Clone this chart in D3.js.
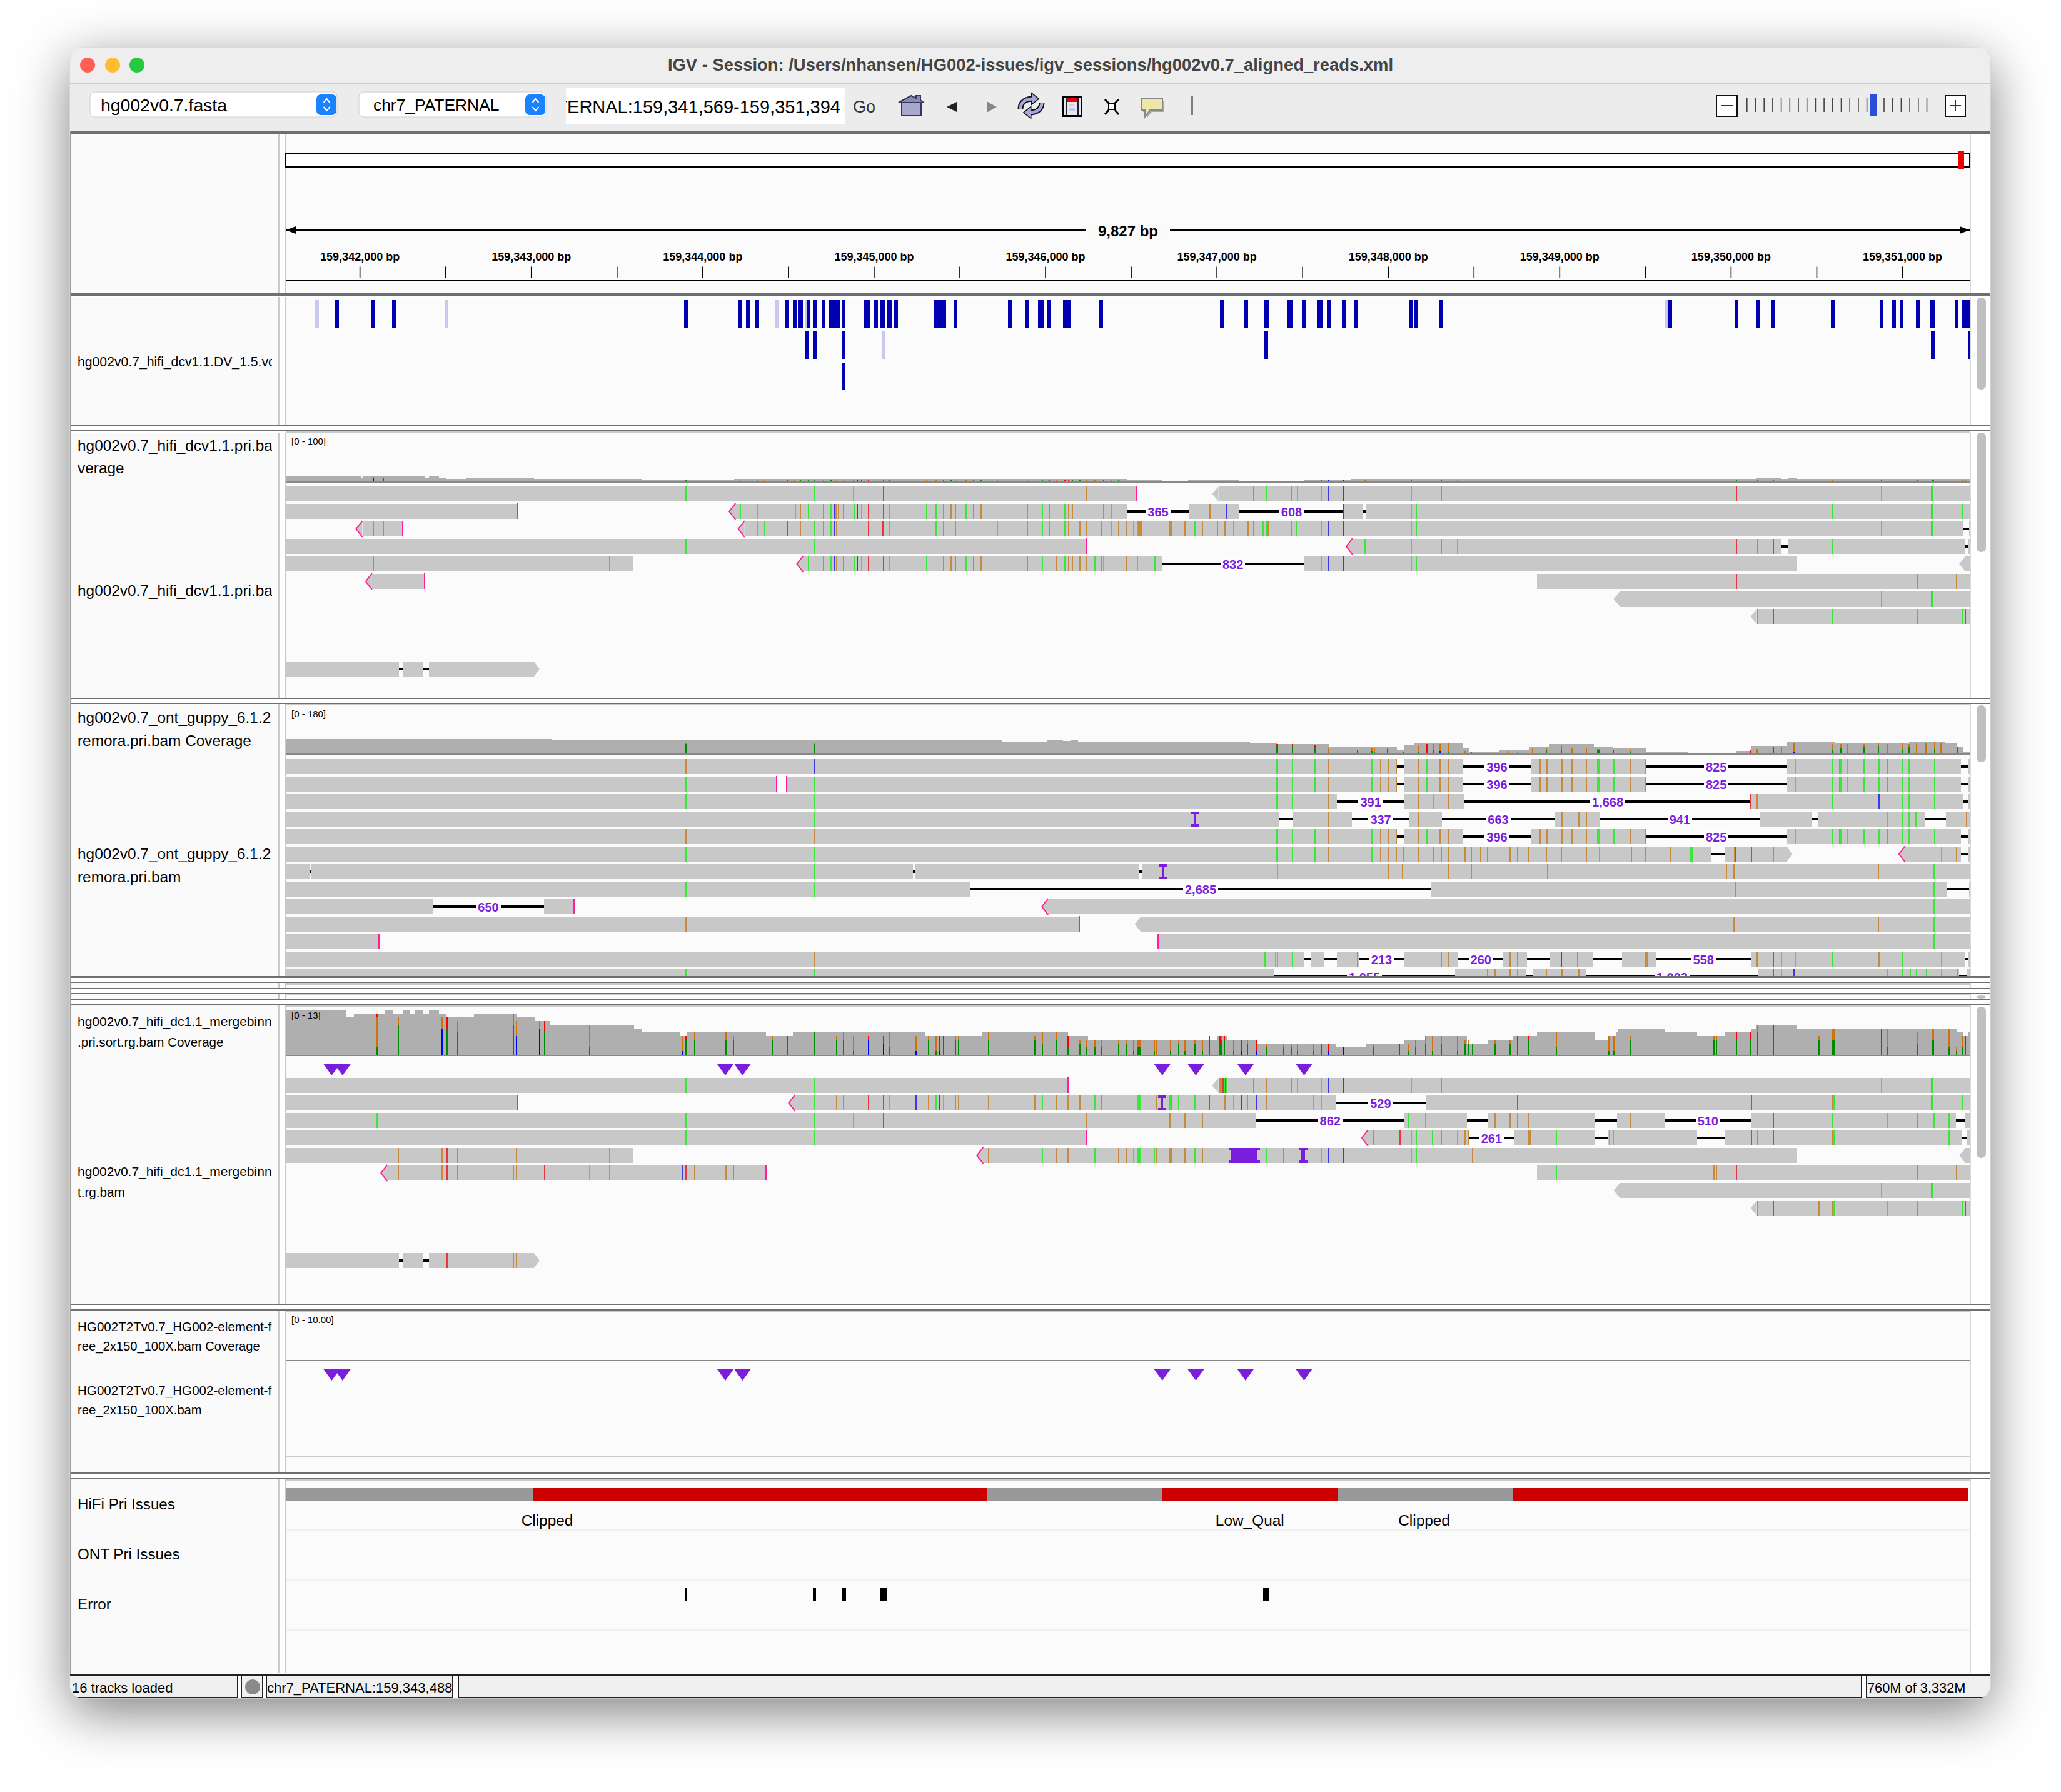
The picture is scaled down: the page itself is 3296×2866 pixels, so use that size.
<!doctype html>
<html lang="en">
<head>
<meta charset="UTF-8">
<title>IGV session</title>
<script src="https://d3js.org/d3.v7.min.js"></script>
<style>
  html, body { margin: 0; padding: 0; background: #fff; }
  text { font-family: "Liberation Sans", Arial, sans-serif; }
</style>
</head>
<body>
<div id="chart"></div>
<script>
// locus shown in the window, every position below is an offset from windowStart
const windowStart = 159341569;
const windowEnd = 159351394;
const windowLen = 9825;

const majorTicks = [159342000,159343000,159344000,159345000,159346000,159347000,159348000,159349000,159350000,159351000];
const minorTicks = [159342000,159342500,159343000,159343500,159344000,159344500,159345000,159345500,159346000,159346500,159347000,159347500,159348000,159348500,159349000,159349500,159350000,159350500,159351000];

// variant track, [start, end, light?]
const variantRow0 = [[170,194,1],[285,311],[498,522],[622,644],[930,948,1],[2323,2345],[2643,2665],[2684,2706],[2740,2762],[2857,2878,1],[2915,2937],[2959,2981],[2988,3017],[3032,3039,1],[3039,3061],[3075,3097],[3127,3148],[3170,3236],[3243,3265],[3375,3411],[3433,3455],[3470,3499],[3506,3535],[3550,3572],[3782,3815],[3818,3852],[3898,3920],[4214,4236],[4315,4337],[4388,4426],[4445,4467],[4535,4580],[4747,4769],[5452,5474],[5592,5614],[5711,5739],[5840,5878],[5927,5949],[6015,6053],[6074,6096],[6161,6183],[6234,6256],[6555,6577],[6584,6606],[6730,6752],[8050,8066,1],[8066,8088],[8454,8476],[8576,8598],[8670,8692],[9016,9038],[9298,9320],[9372,9394],[9417,9439],[9511,9533],[9592,9626],[9738,9760],[9778,9825]];
const variantRow1 = [[3032,3054],[3075,3097],[3243,3265],[3477,3499,1],[5711,5733],[9598,9620],[9816,9825]];
const variantRow2 = [[3243,3265]];

// HiFi dcv1.1 coverage steps
const hifiCovStart = [0,436,447,815,834,893,938,1053,1448,2081,2617,4908,5111,5264,5565,5941,6214,8576,8723,8768,8817];
const hifiCovDepth = [10.2,7.7,10.2,7.7,10.2,7.7,5,7.7,5,2.6,5,2.6,0,2.6,0,2.6,5,7.7,5,7.7,5];
// [position, a, c, g, t] stacked from the baseline
const hifiCovMarks = [[510,0,6.4,2.6,0],[570,6,0,0,0],[1891,0,0,0,0],[2334,2,0,0,0],[2650,0,0,2,0],[2751,0,0,4,0],[2796,0,0,2,0],[2926,2,0,0,0],[2971,0,0,2,0],[3004,2,0,0,0],[3049,2,0,0,0],[3086,2,0,0,0],[3138,0,0,4,0],[3183,2,0,0,0],[3213,0,0,2,0],[3253,0,0,2,0],[3313,0,0,2,0],[3335,0,2,0,0],[3361,0,0,0,2],[3399,0,0,0,2],[3488,0,0,0,2],[3525,2,0,0,0],[3741,0,0,2,0],[3793,0,0,2,0],[3838,2,0,0,0],[3883,2,0,0,0],[3909,0,0,4,0],[3968,0,0,2,0],[4013,2,0,0,0],[4058,2,0,0,0],[4151,0,0,2,0],[4326,0,0,4,0],[4415,2,0,0,0],[4456,2,0,0,0],[4500,0,0,2,0],[4545,0,0,0,2],[4566,0,0,0,2],[4591,2,0,0,0],[4633,2,0,0,0],[4675,0,0,2,0],[4720,0,0,2,0],[4772,0,0,0,2],[4814,0,0,2,0],[4860,2,0,0,0],[6043,2,0,0,0],[6085,0,2,0,0],[6172,0,2,0,0],[6297,0,0,2,0],[6566,4,0,0,0],[6741,2,0,0,0],[6838,0,0,2,0],[8465,2,0,0,0],[8587,4,0,0,0],[8681,4,0,0,0],[9027,0,0,2,0],[9309,0,0,0,2],[9522,2,0,0,0],[9605,4,0,0,0],[9613,4,0,0,0],[9784,0,0,2,0],[9798,0,0,2,0]];

const hifiReads = [
  {row:0, blocks:[[0,4964]], clip:"R", a:[2334,3086,3313], t:[3488], g:[4671]},
  {row:0, blocks:[[5442,9825]], strand:-1, g:[5648,5868,6741,9604], a:[5722,5903,6043,6566,9309,9609], c:[6085,6172], t:[8465]},
  {row:1, blocks:[[0,1351]], clip:"R"},
  {row:1, blocks:[[2624,4908],[5271,5565],[6172,6287],[6301,9825]], gaps:[365,608,null], strand:-1, clip:"L",
    a:[2654,2751,2974,3049,3183,3317,3361,3525,3741,3793,3968,4415,4545,4814,6566,6598,9027,9609,9784],
    c:[3198,3335,5488,6172], g:[3004,3138,3209,3224,3253,3838,3883,3909,4013,4058,4326,4456,4566,4591,4772,5394,9604], t:[3399,3488]},
  {row:2, blocks:[[447,681]], strand:-1, clip:"LR", g:[510,570]},
  {row:2, blocks:[[2677,9787],[9820,9825]], gaps:[null], strand:-1, clip:"L",
    a:[2751,2796,3086,3183,3525,3793,4151,4415,4545,4814,4947,4968,5306,5530,5701,5725,5896,6043,6566,6598,9309,9609],
    c:[3198,6085,6172], g:[3004,3138,3213,3488,3838,3909,4326,4456,4566,4633,4675,4758,4860,4905,4975,4982,4990,5158,5166,5247,5348,5435,5481,5613,5648,5730,5868,9604],
    t:[2926,3399,3484]},
  {row:3, blocks:[[0,4675]], clip:"R", a:[2334,3086]},
  {row:3, blocks:[[6224,8723],[8768,9794],[9815,9825]], gaps:[null,null], strand:-1, clip:"L", a:[6297,6566,6838,9027], g:[6741,8587], t:[8465,8681]},
  {row:4, blocks:[[0,2025]], g:[510], n:[1891]},
  {row:4, blocks:[[3019,5111],[5941,8817]], gaps:[832], strand:-1, clip:"L",
    a:[3049,3183,3317,3361,3525,3741,3968,4415,4545,4720,4772,4968,5072,6043,6566,6598],
    c:[3198,3335,6085,6172], g:[3138,3213,3253,3838,3883,3909,4013,4058,4326,4500,4566,4591,4633,4675,4758,4905], t:[3399,3488]},
  {row:4, blocks:[[9800,9825]], strand:-1},
  {row:5, blocks:[[503,811]], strand:-1, clip:"LR"},
  {row:5, blocks:[[7299,9825]], t:[8465], g:[9522,9749]},
  {row:6, blocks:[[7784,9825]], strand:-1, a:[9309,9609], g:[9604]},
  {row:7, blocks:[[8583,9825]], strand:-1, g:[8587,9522], t:[8681,9798], a:[9027,9784]},
  {row:10, blocks:[[0,659],[681,804],[834,1448]], gaps:[null,null], strand:1}
];

// ONT guppy coverage steps
const ontCovStart = [0,1500,1549,4180,4441,4535,4584,4622,5624,5784,6085,6175,6245,6482,6524,6587,6866,6908,7083,7257,7369,7634,7746,7938,8182,8461,8549,8758,9037,9470,9683,9753,9787];
const ontCovDepth = [51,52,47,43,47,44,47,43,38,34,25,22,25,11,31,37,19,6,11,22,34,25,20,7,2,9,28,43,37,43,37,22,5];
const ontCovMarks = [[2334,34,0,4,0],[3086,34,0,4,0],[5780,31,0,0,3],[5788,31,0,0,3],[5875,28,0,0,6],[6004,22,0,0,7],[6085,0,0,20,0],[6252,11,0,0,0],[6336,8,0,13,0],[6350,6,0,15,0],[6430,15,0,5,0],[6524,7,0,0,0],[6612,5,0,25,0],[6660,0,0,0,33],[6699,11,0,22,0],[6734,0,8,26,0],[6786,7,0,28,0],[6880,0,0,10,0],[6919,4,0,0,0],[6971,3,0,0,0],[7013,3,0,0,0],[7135,0,0,8,0],[7187,0,0,5,0],[7275,0,0,19,0],[7355,11,0,8,0],[7442,11,0,18,0],[7505,0,0,19,0],[7589,0,0,20,0],[7655,11,0,4,0],[7663,11,0,4,0],[7746,11,0,0,0],[7844,7,0,5,0],[8031,2,0,0,0],[8077,2,0,0,0],[8549,0,0,0,11],[8583,0,0,15,0],[8681,0,0,0,25],[8727,0,0,25,0],[8799,0,7,30,0],[9027,11,0,22,0],[9072,20,0,14,0],[9114,0,0,34,0],[9208,25,0,9,0],[9292,28,0,7,0],[9344,0,0,34,0],[9435,11,0,24,0],[9470,22,0,11,0],[9515,0,0,37,0],[9571,0,0,37,0],[9620,15,0,25,0],[9658,0,0,37,0],[9753,22,0,0,0],[9791,0,0,2,0]];

// sites that the three phased ONT reads share
const ontSharedA = [5780,5788,5875,6004,6336,6660,7655,7663,7749,8807,9027,9072,9114,9208,9295,9435,9466,9474,9620];
const ontSharedG = [6085,6388,6434,6479,6612,6734,6786,7317,7358,7442,7450,7505,7589,7844,7931,9067,9348];
const ontTail = [[6528,6870],[7264,7934],[8758,9774],[9815,9825]];
const ontTailGaps = [null,396,825,null];

const ontReads = [
  {row:0, blocks:[[0,6482],...ontTail], gaps:ontTailGaps, a:ontSharedA, g:[2334,...ontSharedG], c:[3086,6738]},
  {row:1, blocks:[[0,2863]], clip:"R", a:[2334]},
  {row:1, blocks:[[2922,6482],...ontTail], gaps:ontTailGaps, clip:"L", a:[3086,...ontSharedA], g:ontSharedG, c:[6738]},
  {row:2, blocks:[[0,6133],[6528,6877],[8549,9787],[9815,9825]], gaps:[391,1668,null],
    a:[2334,3086,5780,5788,5875,6699,9027,9435,9466,9474,9620], g:[6085,6612,6786,8583], t:[8549], c:[9295]},
  {row:3, blocks:[[0,5798],[5879,6221],[6556,6744],[7404,7666],[8601,8905],[8943,9561],[9686,9825]], gaps:[null,337,663,941,null,null],
    a:[3086,9348,9435,9466,9474,9512], g:[6085,6612,7446,7543,7589,9805], ins:[[5299,5299]]},
  {row:4, blocks:[[0,6482],...ontTail], gaps:ontTailGaps, a:ontSharedA, g:[2334,3086,...ontSharedG], c:[6738]},
  {row:5, blocks:[[0,8315],[8395,8758]], gaps:[null], strand:1,
    a:[2334,3086,5780,5788,5875,6004,6336,7666,8196,8206], g:[6085,6388,6434,6479,6524,6612,6699,6741,6786,6880,6919,6971,7013,7142,7187,7254,7355,7442,7589,7850,7931,8077,8454,8681], t:[8458,8552]},
  {row:5, blocks:[[9449,9774],[9815,9825]], gaps:[null], strand:-1, clip:"L", a:[9662], g:[9749]},
  {row:6, blocks:[[0,141],[149,3659],[3674,4978],[4996,9825]], gaps:[null,null,null], a:[3086,5788,9617], g:[6437,6517,6786,6919,7362,8405,8451,9292], ins:[[5111,5111]]},
  {row:7, blocks:[[0,3994],[6681,9693],[9822,9825]], gaps:[2685,null], a:[2334,3086,9617], g:[8458]},
  {row:8, blocks:[[0,856],[1508,1683]], gaps:[650], clip:"R"},
  {row:8, blocks:[[4448,9825]], strand:-1, clip:"L", a:[9617]},
  {row:9, blocks:[[0,4629]], clip:"R", g:[2334]},
  {row:9, blocks:[[4989,9825]], strand:-1, g:[8451,9292], a:[9617]},
  {row:10, blocks:[[0,543]], clip:"R"},
  {row:10, blocks:[[5090,9825]], clip:"L", a:[9617]},
  {row:11, blocks:[[0,5941],[5980,6060],[6133,6259],[6528,6842],[7104,7243],[7372,7627],[7798,7994],[8549,9794],[9815,9825]], gaps:[null,null,213,260,null,null,558,null],
    a:[5715,5777,5785,5875,8727,8807,9027,9435,9662], g:[3086,6252,6741,6786,7142,7187,7537,7931,7941,8583,9295], c:[7442], t:[8681]},
  {row:12, blocks:[[0,5763],[6824,7236],[7278,7586],[8590,9763],[9810,9825]], gaps:[1055,null,1002,null],
    a:[2334,3086,8727,9348,9435,9477,9515,9575,9662], g:[7013,7055,7142,7187,7355,7446,7543,9753], c:[8799], t:[8681]}
];

// merged HiFi coverage steps, integer depth on the 0-13 scale
const mergeCovStart = [0,354,398,581,625,681,726,756,804,834,893,938,1098,1348,1452,1541,2033,2081,2301,2338,2803,2959,3730,4061,4563,4682,5432,5495,5662,6126,6301,6524,6650,6891,7016,7163,7299,7638,7718,7760,7774,8046,8235,8395,8549,8576,8817,9753,9787,9819];
const mergeCovDepth = [12,10,11,12,11,12,11,12,11,12,11,10,11,10,9,8,7,6,5,6,5,6,5,6,5,4,5,4,3,2,3,4,5,3,4,5,6,4,5,6,7,6,5,6,7,8,7,6,5,6];
const mergeCovMarks = [[532,2,0,8,1],[655,8,0,2,0],[912,0,7,3,0],[942,7,0,0,3],[1005,6,0,3,0],[1329,8,0,3,0],[1348,0,5,4,0],[1482,0,7,2,0],[1511,6,0,0,3],[1772,2,0,6,0],[2315,0,1,4,0],[2334,4,0,0,1],[2386,4,0,2,0],[2569,4,0,2,0],[2613,4,0,1,0],[2837,4,0,1,0],[2926,4,0,0,1],[3086,6,0,0,0],[3216,4,0,1,0],[3253,4,0,2,0],[3313,1,0,4,0],[3399,0,4,0,1],[3488,0,3,0,2],[3525,2,0,4,0],[3678,0,1,4,0],[3749,4,0,1,0],[3793,1,0,4,0],[3816,0,1,0,4],[3838,4,0,0,1],[3909,4,0,1,0],[3924,4,0,1,0],[4099,4,0,2,0],[4370,4,0,1,0],[4415,3,0,3,0],[4500,4,0,2,0],[4563,2,0,0,3],[4633,3,0,1,0],[4675,2,0,2,0],[4720,2,0,2,0],[4758,2,0,2,0],[4860,3,0,1,0],[4905,3,0,1,0],[4947,1,0,3,0],[4971,2,0,2,0],[4982,2,0,2,0],[5069,1,0,3,0],[5083,0,0,4,0],[5163,1,0,3,0],[5209,3,0,1,0],[5247,1,0,3,0],[5306,3,0,1,0],[5348,1,0,3,0],[5390,3,0,0,2],[5449,3,0,0,2],[5462,4,0,1,0],[5475,4,0,0,1],[5530,1,0,3,0],[5575,0,1,0,3],[5610,3,0,1,0],[5662,0,1,0,3],[5725,2,0,1,0],[5823,2,0,1,0],[5868,2,0,1,0],[5903,1,0,2,0],[5997,1,0,2,0],[6043,3,0,0,0],[6085,0,1,0,2],[6172,0,2,0,0],[6346,2,0,1,0],[6496,1,0,0,2],[6552,1,0,2,0],[6594,2,0,2,0],[6650,3,0,2,0],[6692,1,0,4,0],[6741,3,0,2,0],[6838,1,0,4,0],[6880,3,0,1,0],[6898,3,0,1,0],[6926,3,0,0,0],[7055,3,0,1,0],[7142,3,0,1,0],[7187,3,0,0,2],[7254,4,0,0,1],[7414,2,0,4,0],[7721,1,0,4,0],[7749,1,0,4,0],[7844,4,0,1,0],[8332,4,0,1,0],[8346,4,0,1,0],[8465,4,0,0,2],[8549,4,0,0,2],[8587,6,0,2,0],[8681,5,0,0,3],[8946,4,0,1,0],[9026,4,0,3,0],[9034,4,0,3,0],[9309,2,0,0,5],[9348,2,0,5,0],[9522,3,0,3,0],[9605,4,0,3,0],[9613,4,0,3,0],[9704,2,0,5,0],[9749,1,0,1,0],[9784,2,0,3,0],[9798,2,0,0,3]];

const mergeReads = [
  {row:0, blocks:[[0,4563]], clip:"R", a:[2334,3086]},
  {row:0, blocks:[[5442,9825]], strand:-1, g:[5449,5456,5463,5648,5720,5868,6741,9604], t:[5470,5484], a:[5477,5491,5725,5903,6043,6566,9309,9609], c:[6085,6172]},
  {row:1, blocks:[[0,1351]], clip:"R"},
  {row:1, blocks:[[2971,6126],[6650,9825]], gaps:[529], strand:-1, clip:"L",
    a:[3086,3525,3793,3838,4415,4720,4971,4978,4985,5160,5209,5306,5530,5725,5997,6043,9034,9609,9784],
    c:[3678,3816,5575,5662], g:[3216,3253,3749,3909,3924,4099,4370,4500,4563,4633,4758,5083,5166,5481,5610,5720,9027,9604],
    t:[3399,3488,5390,7187,8552], ins:[[5104,5104]]},
  {row:2, blocks:[[0,5659],[6528,6891],[7016,7638],[7767,8046],[8549,9746],[9800,9825]], gaps:[862,null,null,510,null],
    a:[532,2334,3086,3313,6552,6650,9027,9348,9617,9704], g:[4671,5160,5247,5348,7055,7142,7187,7254,7844,9522], t:[3488,8681]},
  {row:3, blocks:[[0,4675]], clip:"R", a:[2334,3086]},
  {row:3, blocks:[[6315,6901],[7170,7638],[7718,8235],[8395,9780],[9810,9825]], gaps:[261,null,null,null], strand:-1, clip:"L",
    a:[6566,6598,6692,6838,7414,7725,7746,9034,9704], g:[6346,6741,6880,6898,7252,7259,8587,9027], t:[6500,8552,8681]},
  {row:4, blocks:[[0,2025]], g:[655,912,1005,1348], t:[942], n:[1891]},
  {row:4, blocks:[[4069,8817]], strand:-1, clip:"L",
    a:[4415,4720,4947,4971,4982,5069,5306,5725,6043,6566,6598], c:[6085,6172],
    g:[4099,4500,4563,4860,4905,5083,5158,5166,5247,5348,5823,6926], ins:[[5516,5669],[5925,5948]]},
  {row:4, blocks:[[9800,9825]], strand:-1},
  {row:5, blocks:[[592,2803]], strand:-1, clip:"LR", g:[655,912,1005,1329,1348,2386,2569,2613], t:[942,1511,2334], a:[1772], c:[2315], n:[1891]},
  {row:5, blocks:[[7299,9825]], a:[7414], g:[8332,8346,9522,9749], t:[8465]},
  {row:6, blocks:[[7784,9825]], strand:-1, a:[9309,9609], g:[9604]},
  {row:7, blocks:[[8583,9825]], strand:-1, g:[8587,8946,9027,9522], t:[8681,9798], a:[9034,9348,9784]},
  {row:10, blocks:[[0,659],[681,804],[834,1448]], gaps:[null,null], strand:1, t:[942], g:[1329,1348]}
];

// purple triangles over merged HiFi and element tracks
const softClipSites = [268,331,2565,2665,5114,5310,5600,5941];

// annotation tracks
const issueStart = [0,1441,4090,5111,6140,7162];
const issueEnd = [1441,4090,5111,6140,7162,9817];
const issueKind = ["other","flag","other","flag","other","flag"];
const issueLabelPos = [1525,5625,6642];
const issueLabelText = ["Clipped","Low_Qual","Clipped"];
const errorStart = [2326,3077,3247,3470,5703];
const errorEnd = [2344,3095,3269,3506,5739];

const W = 3296, H = 2866;
const dataLeft = 457, dataRight = 3150, rowStep = 28, readH = 24;
const baseColor = {a:"#3be63b", c:"#3a3ae6", g:"#c98a3e", t:"#e6353c", n:"#9a9a9a"};
const covColor = {a:"#008a00", c:"#0000ff", g:"#d1710a", t:"#ff0000"};
const purple = "#7a1ddd", pink = "#ff1e96", readGray = "#c8c8c8", covGray = "#afafaf";

const xScale = d3.scaleLinear().domain([windowStart, windowEnd]).range([dataLeft, dataRight]);
const x = o => xScale(windowStart + o);

const svg = d3.select("#chart").append("svg").attr("width", W).attr("height", H).style("display", "block");
const defs = svg.append("defs");

function addClip(id, x0, y0, w, h) {
  defs.append("clipPath").attr("id", id).append("rect").attr("x", x0).attr("y", y0).attr("width", w).attr("height", h);
}
function box(parent, x0, y0, w, h, fill) {
  return parent.append("rect").attr("x", x0).attr("y", y0).attr("width", w).attr("height", h).attr("fill", fill).attr("shape-rendering", "crispEdges");
}
function label(parent, txt, x0, y0, size, opts) {
  opts = opts || {};
  return parent.append("text").attr("x", x0).attr("y", y0).attr("font-size", size)
    .attr("dominant-baseline", "central").attr("text-anchor", opts.anchor || "start")
    .attr("font-weight", opts.bold ? "bold" : "normal").attr("fill", opts.fill || "#000").text(txt);
}

// window
defs.append("filter").attr("id", "shadow").attr("x", "-10%").attr("y", "-10%").attr("width", "120%").attr("height", "120%")
  .append("feDropShadow").attr("dx", 0).attr("dy", 22).attr("stdDeviation", 42).attr("flood-color", "#000").attr("flood-opacity", 0.5);
svg.append("rect").attr("x", 112).attr("y", 76).attr("width", 3071).attr("height", 2640).attr("rx", 20)
  .attr("fill", "#fff").attr("stroke", "#c8c8c8").attr("filter", "url(#shadow)");
addClip("win", 112, 76, 3071, 2640);
defs.select("#win rect").attr("rx", 20);
const win = svg.append("g").attr("clip-path", "url(#win)");

// title bar
box(win, 112, 76, 3071, 57, "#eeeeee");
box(win, 112, 132, 3071, 2, "#c9c9c9");
[["#ff5f57",140],["#febc2e",180],["#28c840",219]].forEach(d => {
  win.append("circle").attr("cx", d[1]).attr("cy", 104).attr("r", 12).attr("fill", d[0]);
});
label(win, "IGV - Session: /Users/nhansen/HG002-issues/igv_sessions/hg002v0.7_aligned_reads.xml", 1648, 103, 27.4, {anchor:"middle", bold:true, fill:"#444"});

// tool bar
box(win, 112, 134, 3071, 75, "#ececec");
function combo(x0, x1, btn, txt, textX, size) {
  win.append("rect").attr("x", x0).attr("y", 147).attr("width", x1 - x0).attr("height", 40).attr("rx", 8)
    .attr("fill", "#fff").attr("stroke", "#d0d0d0");
  win.append("rect").attr("x", btn).attr("y", 151).attr("width", x1 - btn - 1).attr("height", 33).attr("rx", 7).attr("fill", "#1a82ff");
  const cx = btn + (x1 - btn) / 2;
  win.append("path").attr("d", `M${cx-5},164 L${cx},158 L${cx+5},164 M${cx-5},171 L${cx},177 L${cx+5},171`)
    .attr("fill", "none").attr("stroke", "#fff").attr("stroke-width", 2);
  label(win, txt, textX, 168, size);
}
combo(144, 539, 506, "hg002v0.7.fasta", 161, 28.4);
combo(574, 873, 840, "chr7_PATERNAL", 597, 26.4);
addClip("locus", 905, 141, 446, 58);
box(win, 905, 141, 446, 58, "#fff");
box(win, 905, 198, 446, 1, "#bbb");
win.append("g").attr("clip-path", "url(#locus)").call(g => label(g, "chr7_PATERNAL:159,341,569-159,351,394", 1344, 171, 29, {anchor:"end"}));
label(win, "Go", 1364, 171, 27, {fill:"#333"});

// tool bar icons
win.append("path").attr("d", "M1442,164 L1473,164 L1473,185 L1442,185 Z").attr("fill", "#a8a8cc").attr("stroke", "#333366").attr("stroke-width", 2);
win.append("path").attr("d", "M1437,164 L1457,153 L1465,157 L1465,153 L1472,153 L1472,160 L1477,164 Z").attr("fill", "#8c8ca8").attr("stroke", "#333366").attr("stroke-width", 2);
win.append("path").attr("d", "M1530,163 L1514,171 L1530,179 Z").attr("fill", "#222");
win.append("path").attr("d", "M1578,162 L1594,171 L1578,180 Z").attr("fill", "#888");
// refresh arrows, a dark outline under a lighter stroke
["#111", "#a6a6dd"].forEach((c, i) => {
  const w = i ? 5 : 9;
  win.append("path").attr("d", "M1632,174 C1632,162 1642,158 1652,158 M1666,164 C1666,176 1656,180 1646,180")
    .attr("fill", "none").attr("stroke", c).attr("stroke-width", w);
  win.append("path").attr("d", "M1650,150 L1660,158 L1650,166 Z M1648,172 L1638,180 L1648,188 Z")
    .attr("fill", c).attr("stroke", c).attr("stroke-width", i ? 0 : 3);
});
box(win, 1699, 155, 30, 30, "#e6e6f4").attr("stroke", "#000").attr("stroke-width", 3);
box(win, 1706, 156, 17, 7, "#f00000");
box(win, 1709, 172, 10, 6, "#c4c8ee");
box(win, 1710, 166, 8, 3, "#eec8c8");
box(win, 1705, 157, 1.5, 27, "#222");
box(win, 1723, 157, 1.5, 27, "#222");
win.append("path").attr("d", "M1767,159 L1773,165 M1789,159 L1783,165 M1767,183 L1773,176 M1789,183 L1783,176").attr("stroke", "#000").attr("stroke-width", 3);
box(win, 1773, 166, 10, 9, "#fff").attr("stroke", "#000").attr("stroke-width", 2.5);
win.append("path").attr("d", "M1828,161 L1862,161 L1862,179 L1842,179 L1834,189 L1834,179 L1828,179 Z").attr("fill", "#aaa");
win.append("path").attr("d", "M1825,158 L1859,158 L1859,176 L1839,176 L1831,187 L1831,176 L1825,176 Z").attr("fill", "#ece6a8").attr("stroke", "#888").attr("stroke-width", 2);
box(win, 1904, 154, 4, 30, "#808080");

// zoom slider
const sliderStops = d3.range(2793, 3094, 13.7);
win.selectAll("rect.stop").data(sliderStops).join("rect").attr("class", "stop")
  .attr("x", d => d).attr("y", 157).attr("width", 1.6).attr("height", 22).attr("fill", "#444");
box(win, 2990, 151, 12, 35, "#2a50d8");
box(win, 2745, 153, 33, 33, "#fff").attr("stroke", "#111").attr("stroke-width", 2);
box(win, 2753, 168, 18, 2, "#333");
box(win, 3111, 153, 32, 33, "#fff").attr("stroke", "#111").attr("stroke-width", 2);
box(win, 3118, 168, 18, 2, "#333");
box(win, 3126, 160, 2, 18, "#333");

// panels backgrounds
box(win, 112, 209, 3071, 2468, "#fff");
const panels = [[215,468],[475,680],[692,1116],[1126,1561],[1572,1580],[1590,1598],[1608,2085],[2096,2355],[2366,2676]];
panels.forEach(p => {
  box(win, 114, p[0], 331, p[1] - p[0], "#fafafa");
  box(win, 457, p[0], 2693, p[1] - p[0], "#fbfbfb");
  box(win, 445, p[0], 2, p[1] - p[0], "#c9c9c9");
  box(win, 456, p[0], 2, p[1] - p[0], "#c9c9c9");
  box(win, 3150, p[0], 2, p[1] - p[0], "#d8d8d8");
});
// panel separators
[[209,6],[468,6],[680,2],[688,2],[1116,2],[1124,2],[1561,3],[1570,2],[1580,2],[1588,2],[1598,2],[1606,2],[2085,2],[2094,2],[2355,2],[2364,2]].forEach(s => {
  box(win, 112, s[0], 3071, s[1], "#6f6f6f");
});
[[690,2],[1126,2],[1572,3],[1590,2],[1608,3],[2096,2],[2366,2]].forEach(s => {
  box(win, 457, s[0], 2693, s[1], "#cacaca");
});
box(win, 3182, 209, 2, 2468, "#7a7a7a");
box(win, 112, 209, 2, 2468, "#9a9a9a");

// scroll thumbs
[[476,623],[692,883],[1128,1219],[1592,1597],[1610,1852]].forEach(s => {
  win.append("rect").attr("x", 3161).attr("y", s[0]).attr("width", 15).attr("height", s[1] - s[0]).attr("rx", 7).attr("fill", "#c0c0c0");
});

// ruler and genome bar
box(win, dataLeft, 245, 2693, 22, "#fff").attr("stroke", "#000").attr("stroke-width", 2);
box(win, 3131, 241, 10, 30, "#f00000");
box(win, dataLeft, 367, 2693, 2, "#000");
win.append("path").attr("d", `M${dataLeft},368 l16,-6 l0,12 Z M${dataRight},368 l-16,-6 l0,12 Z`).attr("fill", "#000");
box(win, 1736, 355, 135, 26, "#fafafa");
label(win, "9,827 bp", 1804, 369, 24, {anchor:"middle", bold:true});

const minorAxis = d3.axisBottom(xScale).tickValues(minorTicks).tickSize(18).tickFormat("");
win.append("g").attr("transform", "translate(0,426.5)").call(minorAxis).call(g => g.select(".domain").remove())
  .selectAll("line").attr("stroke", "#000").attr("stroke-width", 1.6);
const majorAxis = d3.axisTop(xScale).tickValues(majorTicks).tickSize(0).tickPadding(5).tickFormat(d => d3.format(",")(d) + " bp");
win.append("g").attr("transform", "translate(0,422)").call(majorAxis).call(g => g.select(".domain").remove())
  .selectAll("text").attr("font-size", 18).attr("font-weight", "bold").attr("fill", "#000").attr("font-family", "Liberation Sans");
box(win, dataLeft, 448, 2693, 1.5, "#000");

// variant track
function drawVariants(rows, top) {
  win.selectAll(null).data(rows).join("rect")
    .attr("x", d => x(d[0])).attr("y", top).attr("width", d => x(d[1]) - x(d[0])).attr("height", 44)
    .attr("fill", d => d[2] ? "#c9c9ef" : "#0000b2").attr("shape-rendering", "crispEdges");
}
drawVariants(variantRow0, 480);
drawVariants(variantRow1, 530);
drawVariants(variantRow2, 580);

// coverage bars
function drawCoverage(top, bottom, maxDepth, starts, depths, marks) {
  const y = d3.scaleLinear().domain([0, maxDepth]).range([bottom, top]);
  const steps = starts.map((s, i) => [s, depths[i]]);
  steps.push([windowLen, depths[depths.length - 1]]);
  const area = d3.area().x(d => x(d[0])).y0(bottom).y1(d => y(d[1])).curve(d3.curveStepAfter);
  win.append("path").datum(steps).attr("d", area).attr("fill", covGray).attr("shape-rendering", "crispEdges");
  marks.forEach(m => {
    let acc = 0;
    ["a", "c", "g", "t"].forEach((b, i) => {
      const n = m[i + 1];
      if (!n) return;
      box(win, x(m[0]) - 1, y(acc + n), 2, y(acc) - y(acc + n), covColor[b]);
      acc += n;
    });
  });
  box(win, dataLeft, bottom, dataRight - dataLeft, 2, "#888");
}

// alignments: blocks, deletion lines with their length, strand arrow, clip flags, mismatches
function drawReads(reads, top, clipId) {
  const layer = win.append("g").attr("clip-path", `url(#${clipId})`);
  reads.forEach(r => {
    const y0 = top + r.row * rowStep, mid = y0 + readH / 2;
    const first = r.blocks[0][0], last = r.blocks[r.blocks.length - 1][1];
    r.blocks.slice(1).forEach((b, i) => {
      box(layer, x(r.blocks[i][1]), mid - 2, x(b[0]) - x(r.blocks[i][1]), 4, "#000");
    });
    layer.selectAll(null).data(r.blocks).join("rect")
      .attr("x", d => x(d[0])).attr("y", y0).attr("width", d => x(d[1]) - x(d[0])).attr("height", readH)
      .attr("fill", readGray).attr("shape-rendering", "crispEdges");
    if (r.strand === -1) {
      layer.append("path").attr("d", `M${x(first)},${y0} l-10,${readH / 2} l10,${readH / 2} Z`).attr("fill", readGray);
    }
    if (r.strand === 1) {
      layer.append("path").attr("d", `M${x(last)},${y0} l9,${readH / 2} l-9,${readH / 2} Z`).attr("fill", readGray);
    }
    ["a", "c", "g", "t", "n"].forEach(b => {
      layer.selectAll(null).data(r[b] || []).join("rect")
        .attr("x", d => x(d) - 1).attr("y", y0).attr("width", 2).attr("height", readH)
        .attr("fill", baseColor[b]).attr("shape-rendering", "crispEdges");
    });
    (r.ins || []).forEach(n => {
      const w = Math.max(4, x(n[1]) - x(n[0])), x0 = x(n[0]);
      box(layer, x0, y0, w, readH, purple);
      box(layer, x0 - 4, y0, w + 8, 4, purple);
      box(layer, x0 - 4, y0 + readH - 4, w + 8, 4, purple);
    });
    if (r.clip && r.clip.includes("L")) {
      if (r.strand === -1) {
        layer.append("path").attr("d", `M${x(first)},${y0 - 1} l-10,${readH / 2 + 1} l10,${readH / 2 + 1}`)
          .attr("fill", "none").attr("stroke", pink).attr("stroke-width", 2);
      } else {
        box(layer, x(first) - 1, y0 - 1, 2, readH + 1, pink);
      }
    }
    if (r.clip && r.clip.includes("R")) {
      box(layer, x(last) - 1, y0 - 1, 2, readH + 1, pink);
    }
    (r.gaps || []).forEach((g, i) => {
      if (g === null) return;
      const cx = (x(r.blocks[i][1]) + x(r.blocks[i + 1][0])) / 2;
      const plate = box(layer, cx, y0, 0, readH, "#fdfdfd");
      const t = label(layer, d3.format(",")(g), cx, mid + 1, 20, {anchor:"middle", bold:true, fill:purple});
      const tw = t.node().getComputedTextLength() + 6;
      plate.attr("x", cx - tw / 2).attr("width", tw);
    });
  });
}

function drawSoftClips(top) {
  win.selectAll(null).data(softClipSites).join("path")
    .attr("d", d => `M${x(d) - 13},${top} L${x(d) + 13},${top} L${x(d)},${top + 18} Z`).attr("fill", purple);
}

addClip("hifiClip", dataLeft, 692, dataRight - dataLeft, 424);
addClip("ontClip", dataLeft, 1126, dataRight - dataLeft, 435);
addClip("mergeClip", dataLeft, 1608, dataRight - dataLeft, 477);

drawCoverage(692, 770, 100, hifiCovStart, hifiCovDepth, hifiCovMarks);
drawReads(hifiReads, 778, "hifiClip");
drawCoverage(1125, 1205, 180, ontCovStart, ontCovDepth, ontCovMarks);
drawReads(ontReads, 1214, "ontClip");
drawCoverage(1609, 1687, 13, mergeCovStart, mergeCovDepth, mergeCovMarks);
drawSoftClips(1702);
drawReads(mergeReads, 1724, "mergeClip");

// element track
box(win, dataLeft, 2175, dataRight - dataLeft, 2, "#888");
drawSoftClips(2190);
box(win, dataLeft, 2329, dataRight - dataLeft, 2, "#cacaca");

// annotation tracks
win.selectAll(null).data(issueStart).join("rect")
  .attr("x", d => x(d)).attr("y", 2380).attr("height", 20)
  .attr("width", (d, i) => x(issueEnd[i]) - x(d))
  .attr("fill", (d, i) => issueKind[i] === "flag" ? "#cc0000" : "#999999").attr("shape-rendering", "crispEdges");
issueLabelPos.forEach((p, i) => label(win, issueLabelText[i], x(p), 2431, 24.4, {anchor:"middle"}));
[2446, 2526, 2606].forEach(y0 => box(win, dataLeft, y0, dataRight - dataLeft, 2, "#f1f1f1"));
win.selectAll(null).data(errorStart).join("rect")
  .attr("x", d => x(d)).attr("y", 2540).attr("height", 20)
  .attr("width", (d, i) => x(errorEnd[i]) - x(d)).attr("fill", "#000").attr("shape-rendering", "crispEdges");

// axis range labels
[["[0 - 100]",705],["[0 - 180]",1141],["[0 - 13]",1623],["[0 - 10.00]",2110]].forEach(d => label(win, d[0], 466, d[1], 15));

// track names, cut by the name panel like the reference
addClip("names", 114, 209, 321, 2468);
const names = win.append("g").attr("clip-path", "url(#names)");
[["hg002v0.7_hifi_dcv1.1.DV_1.5.vcf",578,21.2],
 ["hg002v0.7_hifi_dcv1.1.pri.bam",712,24.4],["verage",748,24.4],["hg002v0.7_hifi_dcv1.1.pri.bam",944,24.4],
 ["hg002v0.7_ont_guppy_6.1.2",1147,24.4],["remora.pri.bam Coverage",1184,24.4],["hg002v0.7_ont_guppy_6.1.2",1365,24.4],["remora.pri.bam",1402,24.4],
 ["hg002v0.7_hifi_dc1.1_mergebinn",1633,21],[".pri.sort.rg.bam Coverage",1666,20.6],["hg002v0.7_hifi_dc1.1_mergebinn",1873,21],["t.rg.bam",1906,20.6],
 ["HG002T2Tv0.7_HG002-element-f",2121,20.6],["ree_2x150_100X.bam Coverage",2153,20.2],["HG002T2Tv0.7_HG002-element-f",2223,20.6],["ree_2x150_100X.bam",2255,20.2],
 ["HiFi Pri Issues",2405,24.2],["ONT Pri Issues",2485,24.2],["Error",2565,24.2]
].forEach(d => label(names, d[0], 124, d[1], d[2]));

// status bar
box(win, 112, 2677, 3071, 39, "#f0f0f0");
box(win, 112, 2677, 3071, 3, "#222");
box(win, 112, 2714, 3071, 3, "#222");
[380,386,420,426,724,733,2977,2985].forEach(v => box(win, v - 1, 2677, 2, 39, "#222"));
[[381,385],[421,425],[725,732],[2978,2984]].forEach(s => box(win, s[0], 2680, s[1] - s[0], 36, "#fff"));
win.append("circle").attr("cx", 404).attr("cy", 2698).attr("r", 12).attr("fill", "#8a8a8a");
label(win, "16 tracks loaded", 115, 2699, 22);
label(win, "chr7_PATERNAL:159,343,488", 427, 2699, 22);
label(win, "760M of 3,332M", 2986, 2699, 21.8);
</script>
</body>
</html>
